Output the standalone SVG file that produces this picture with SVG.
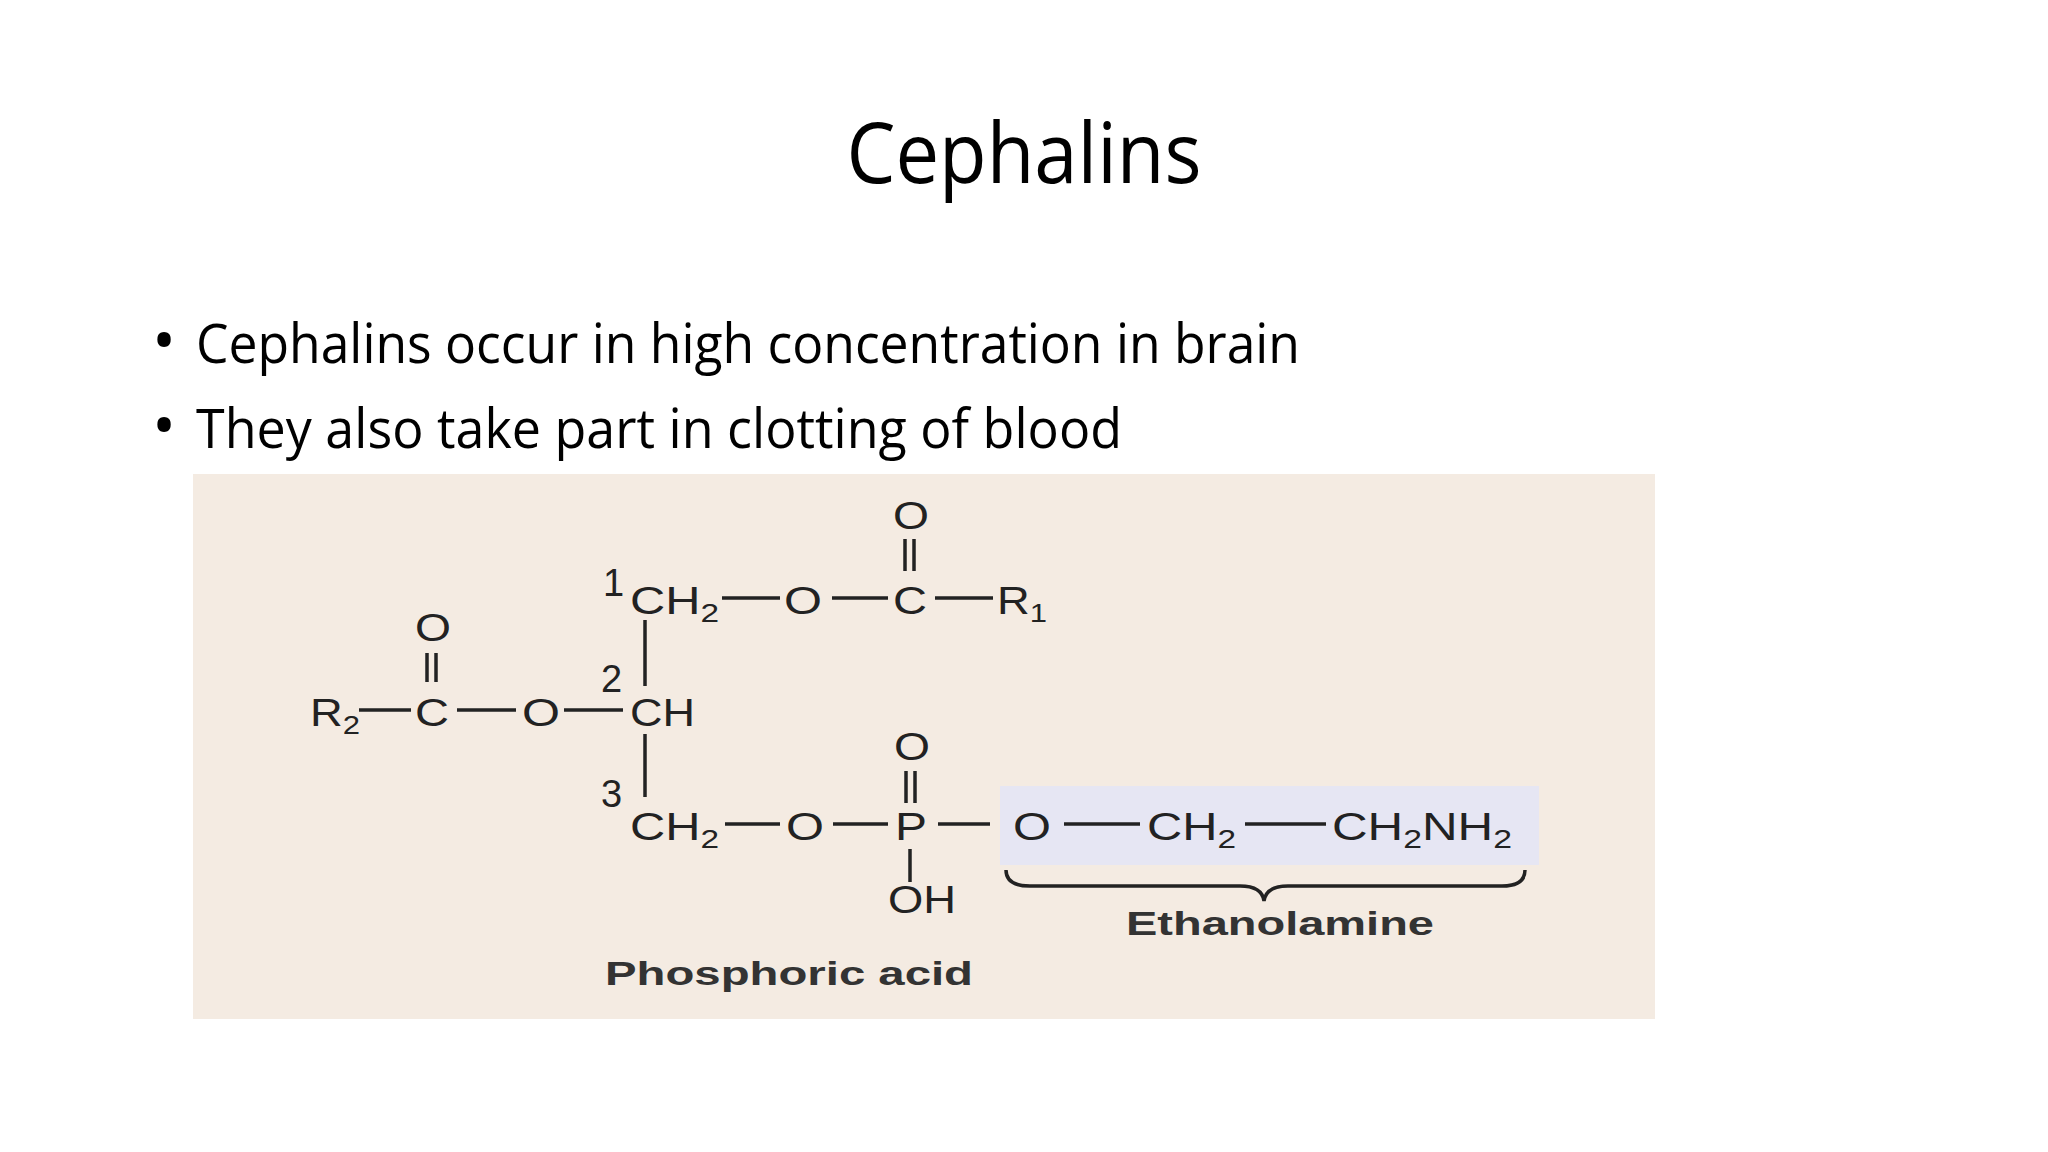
<svg xmlns="http://www.w3.org/2000/svg" width="2048" height="1152" viewBox="0 0 2048 1152">
<style>
.t{font-family:"Open Sans","Liberation Sans",sans-serif;fill:#000}
.c{font-family:"Liberation Sans",Arial,sans-serif;font-size:38px;fill:#222}
.s{font-size:26px}
.b{font-family:"Liberation Sans",Arial,sans-serif;font-size:34px;font-weight:bold;fill:#333}
line{stroke:#222;stroke-width:3.5}
</style>
<rect width="2048" height="1152" fill="#fff"/>
<text class="t" x="1024" y="183" font-size="84" text-anchor="middle" textLength="355" lengthAdjust="spacingAndGlyphs">Cephalins</text>
<g id="bullets">
<text class="t" x="152" y="363" font-size="64">•</text>
<text class="t" x="196" y="363" font-size="54" textLength="1104" lengthAdjust="spacingAndGlyphs">Cephalins occur in high concentration in brain</text>
<text class="t" x="152" y="448" font-size="64">•</text>
<text class="t" x="196" y="448" font-size="54" textLength="926" lengthAdjust="spacingAndGlyphs">They also take part in clotting of blood</text>
</g>
<g id="figure">
<rect x="193" y="474" width="1462" height="545" fill="#f4ebe2"/>
<rect x="1000" y="786" width="539" height="79" fill="#e6e6f3"/>
</g>
<g id="atoms">
<text class="c" x="603" y="596" font-size="28">1</text>
<text class="c" x="630" y="614" textLength="89" lengthAdjust="spacingAndGlyphs">CH<tspan class="s" dy="8">2</tspan></text>
<text class="c" x="784" y="614" textLength="38" lengthAdjust="spacingAndGlyphs">O</text>
<text class="c" x="893" y="614" textLength="34" lengthAdjust="spacingAndGlyphs">C</text>
<text class="c" x="997" y="614" textLength="50" lengthAdjust="spacingAndGlyphs">R<tspan class="s" dy="8">1</tspan></text>
<text class="c" x="893" y="529" textLength="36" lengthAdjust="spacingAndGlyphs">O</text>
<text class="c" x="310" y="726" textLength="50" lengthAdjust="spacingAndGlyphs">R<tspan class="s" dy="8">2</tspan></text>
<text class="c" x="415" y="726" textLength="34" lengthAdjust="spacingAndGlyphs">C</text>
<text class="c" x="522" y="726" textLength="38" lengthAdjust="spacingAndGlyphs">O</text>
<text class="c" x="601" y="692" font-size="32">2</text>
<text class="c" x="630" y="726" textLength="65" lengthAdjust="spacingAndGlyphs">CH</text>
<text class="c" x="415" y="641" textLength="36" lengthAdjust="spacingAndGlyphs">O</text>
<text class="c" x="601" y="807" font-size="32">3</text>
<text class="c" x="630" y="840" textLength="89" lengthAdjust="spacingAndGlyphs">CH<tspan class="s" dy="8">2</tspan></text>
<text class="c" x="786" y="840" textLength="38" lengthAdjust="spacingAndGlyphs">O</text>
<text class="c" x="895" y="840" textLength="32" lengthAdjust="spacingAndGlyphs">P</text>
<text class="c" x="894" y="760" textLength="36" lengthAdjust="spacingAndGlyphs">O</text>
<text class="c" x="888" y="913" textLength="68" lengthAdjust="spacingAndGlyphs">OH</text>
<text class="c" x="1013" y="840" textLength="38" lengthAdjust="spacingAndGlyphs">O</text>
<text class="c" x="1147" y="840" textLength="89" lengthAdjust="spacingAndGlyphs">CH<tspan class="s" dy="8">2</tspan></text>
<text class="c" x="1332" y="840" textLength="180" lengthAdjust="spacingAndGlyphs">CH<tspan class="s" dy="8">2</tspan><tspan dy="-8">NH</tspan><tspan class="s" dy="8">2</tspan></text>
<text class="b" x="1126" y="935" textLength="308" lengthAdjust="spacingAndGlyphs">Ethanolamine</text>
<text class="b" x="605" y="985" textLength="368" lengthAdjust="spacingAndGlyphs">Phosphoric acid</text>
</g>
<g id="bonds">
<line x1="722" y1="598" x2="780" y2="598"/>
<line x1="832" y1="598" x2="888" y2="598"/>
<line x1="935" y1="598" x2="993" y2="598"/>
<line x1="905" y1="539" x2="905" y2="571"/>
<line x1="914" y1="539" x2="914" y2="571"/>
<line x1="359" y1="710" x2="411" y2="710"/>
<line x1="457" y1="710" x2="516" y2="710"/>
<line x1="564" y1="710" x2="623" y2="710"/>
<line x1="427" y1="653" x2="427" y2="682"/>
<line x1="436" y1="653" x2="436" y2="682"/>
<line x1="645" y1="620" x2="645" y2="686"/>
<line x1="645" y1="734" x2="645" y2="797"/>
<line x1="725" y1="824" x2="780" y2="824"/>
<line x1="833" y1="824" x2="888" y2="824"/>
<line x1="938" y1="824" x2="990" y2="824"/>
<line x1="1064" y1="824" x2="1140" y2="824"/>
<line x1="1245" y1="824" x2="1326" y2="824"/>
<line x1="906" y1="771" x2="906" y2="803"/>
<line x1="915" y1="771" x2="915" y2="803"/>
<line x1="910" y1="849" x2="910" y2="882"/>
<path d="M1006 870 Q1006 886 1030 886 L1240 886 Q1262 886 1264 901 Q1266 886 1288 886 L1502 886 Q1525 886 1525 870" fill="none" stroke="#222" stroke-width="3.5"/>
</g>
</svg>
